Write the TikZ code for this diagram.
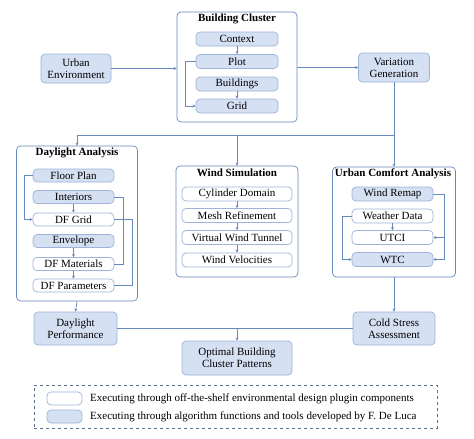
\documentclass[tikz,border=0pt]{standalone}
\usepackage{fontspec}
\setmainfont{Liberation Serif}
\usepackage{tikz}
\usetikzlibrary{positioning}
\usetikzlibrary{arrows.meta}
\usetikzlibrary{calc}

\definecolor{boxfill}{HTML}{D5E0F3}
\definecolor{boxline}{HTML}{9DB3D8}
\definecolor{wireblue}{HTML}{6688BB}
\definecolor{framegray}{HTML}{5A6F8F}

\tikzset{
  algo/.style={draw=boxline,fill=boxfill,rounded corners=4pt,line width=0.7pt,
    inner sep=1pt,align=center,font=\fontsize{11}{12}\selectfont},
  tool/.style={algo,fill=white},
  group/.style={draw=wireblue,rounded corners=4pt,line width=0.7pt,fill=white},
  grouptitle/.style={font=\bfseries\fontsize{11}{12}\selectfont,inner sep=0pt},
  arr/.style={draw=wireblue,line width=0.7pt,-{Stealth[length=3pt,width=3pt]}},
  link/.style={draw=wireblue,line width=0.7pt}
}

\begin{document}
\begin{tikzpicture}[x=1pt,y=-1pt]
  \useasboundingbox[fill=white] (0,0) rectangle (474,439);

  % outer groups
  \node[group,minimum width=120,minimum height=110] (bc) at (237,67) {};
  \node[group,minimum width=121,minimum height=155] (dl) at (77,223.5) {};
  \node[group,minimum width=122,minimum height=111] (wind) at (237,221.5) {};
  \node[group,minimum width=123,minimum height=110] (uca) at (394,222) {};
  \node[grouptitle] (bct) at (237,19) {Building Cluster};
  \node[grouptitle] (dlt) at (77,153) {Daylight Analysis};
  \node[grouptitle] (windt) at (237,173) {Wind Simulation};
  \node[grouptitle] (ucat) at (393,173.5) {Urban Comfort Analysis};

  % main flow
  \node[algo,minimum width=70,minimum height=29] (urban) at (76,68.5) {Urban\\Environment};
  \node[algo,minimum width=71,minimum height=29] (var) at (394,67.5) {Variation\\Generation};
  \node[algo,minimum width=83,minimum height=33] (dlperf) at (75.5,328.5) {Daylight\\Performance};
  \node[algo,minimum width=82,minimum height=33] (cold) at (394,328.5) {Cold Stress\\Assessment};
  \node[algo,minimum width=110,minimum height=34] (opt) at (237,358) {Optimal Building\\Cluster Patterns};

  % building cluster
  \node[algo,minimum width=82,minimum height=14] (context) at (237,39) {Context};
  \node[algo,minimum width=82,minimum height=14] (plot) at (237,61.5) {Plot};
  \node[algo,minimum width=82,minimum height=14] (bldg) at (237,84) {Buildings};
  \node[algo,minimum width=82,minimum height=14] (grid) at (237,106) {Grid};

  % daylight analysis
  \node[algo,minimum width=81,minimum height=13] (floor) at (73.5,175.5) {Floor Plan};
  \node[algo,minimum width=81,minimum height=13] (inter) at (73.5,197) {Interiors};
  \node[tool,minimum width=81,minimum height=13] (dfgrid) at (73.5,219.5) {DF Grid};
  \node[algo,minimum width=81,minimum height=13] (env) at (73.5,241) {Envelope};
  \node[tool,minimum width=81,minimum height=13] (dfmat) at (73.5,264) {DF Materials};
  \node[tool,minimum width=81,minimum height=13] (dfpar) at (73.5,285.5) {DF Parameters};

  % wind simulation
  \node[tool,minimum width=110,minimum height=14] (cyl) at (237,194) {Cylinder Domain};
  \node[tool,minimum width=110,minimum height=14] (mesh) at (237,215.5) {Mesh Refinement};
  \node[tool,minimum width=110,minimum height=14] (tunnel) at (237,237.5) {Virtual Wind Tunnel};
  \node[tool,minimum width=110,minimum height=14] (vel) at (237,260) {Wind Velocities};

  % urban comfort analysis
  \node[algo,minimum width=81,minimum height=14] (remap) at (392.5,194) {Wind Remap};
  \node[tool,minimum width=81,minimum height=14] (weather) at (392.5,216) {Weather Data};
  \node[tool,minimum width=81,minimum height=14] (utci) at (392.5,237.5) {UTCI};
  \node[algo,minimum width=81,minimum height=14] (wtc) at (392.5,259.5) {WTC};

  % legend
  \node[draw=framegray,dashed,line width=0.7pt,minimum width=403,minimum height=43] (legend) at (235.5,406.5) {};
  \node[tool,minimum width=35,minimum height=13] (keytool) at (64.5,398.5) {};
  \node[algo,minimum width=35,minimum height=13] (keyalgo) at (64.5,416.5) {};
  \node[anchor=west,inner sep=0pt,font=\fontsize{11}{12}\selectfont] (keytoolt) at (90,398.5)
    {Executing through off-the-shelf environmental design plugin components};
  \node[anchor=west,inner sep=0pt,font=\fontsize{11}{12}\selectfont] (keyalgot) at (90,416.5)
    {Executing through algorithm functions and tools developed by F. De Luca};

  % connectors
  \coordinate (bus) at (0,135);
  \draw[arr] (urban.east) -- (urban.east -| bc.west);
  \draw[arr] (bc.east |- var.west) -- (var.west);
  \draw[arr] (var.south) -- (var.south |- bus) -- (dl.north |- bus) -- (dl.north);
  \draw[arr] (wind.north |- bus) -- (wind.north);
  \draw[arr] (var.south |- bus) -- (uca.north);
  \draw[arr] (dl.south) -- (dlperf.north);
  \draw[arr] (uca.south) -- (cold.north);
  \draw[link] (dlperf.east) -- (cold.west);
  \draw[arr] (opt.north |- dlperf.east) -- (opt.north);

  \draw[arr] (context) -- (plot);
  \draw[arr] (bldg) -- (grid);
  \draw[arr] (plot.west) -- ++(-10,0) |- (grid.west);

  \draw[arr] (floor.west) -- (24,175.5) |- (dfgrid.west);
  \draw[arr] (inter) -- (dfgrid);
  \draw[arr] (env) -- (dfmat);
  \draw[arr] (dfmat) -- (dfpar);
  \draw[link] (inter.east) -- (123,197) |- (dfmat.east);
  \draw[link] (dfgrid.east) -- (132,219.5) |- (dfpar.east);

  \draw[arr] (cyl) -- (mesh);
  \draw[arr] (mesh) -- (tunnel);
  \draw[arr] (tunnel) -- (vel);

  \draw[link] (remap.east) -- (444,194) -- (444,259.5);
  \draw[arr] (444,237.5) -- (utci.east);
  \draw[arr] (444,259.5) -- (wtc.east);
  \draw[arr] (weather.west) -- (342,216) |- (wtc.west);
  \draw[arr] (weather) -- (utci);
\end{tikzpicture}
\end{document}
